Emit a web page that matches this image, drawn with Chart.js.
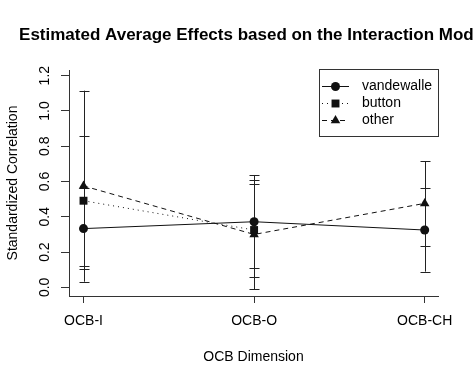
<!DOCTYPE html>
<html>
<head>
<meta charset="utf-8">
<script src="https://cdn.jsdelivr.net/npm/chart.js@4/dist/chart.umd.min.js"></script>
<style>
  html, body { margin: 0; padding: 0; background: #fff; }
  #wrap { width: 474px; height: 382px; position: relative; }
</style>
</head>
<body>
<div id="wrap"><canvas id="c" width="474" height="382"></canvas></div>
<script>
// ---- data ----
const categories = ['OCB-I', 'OCB-O', 'OCB-CH'];
const seriesNames = ['vandewalle', 'button', 'other'];
const vandewalle      = [0.333, 0.372, 0.325];
const vandewalleLower = [0.102, 0.110, 0.089];
const vandewalleUpper = [0.565, 0.637, 0.563];
const button      = [0.491, 0.325, null];
const buttonLower = [0.123, 0.059, null];
const buttonUpper = [0.860, 0.608, null];
const other      = [0.575, 0.300, 0.476];
const otherLower = [0.032, -0.011, 0.234];
const otherUpper = [1.115, 0.586, 0.716];
const yTicks = [0.0, 0.2, 0.4, 0.6, 0.8, 1.0, 1.2];
const titleText = 'Estimated Average Effects based on the Interaction Model';
const xTitle = 'OCB Dimension';
const yTitle = 'Standardized Correlation';

const FONT = '"Liberation Sans", Arial, Helvetica, sans-serif';
const INK = '#111';

function pts(arr) {
  const out = [];
  arr.forEach((v, i) => { if (v !== null) out.push({ x: i + 1, y: v }); });
  return out;
}

const styles = [
  { pointStyle: 'circle', radius: 4.5, dash: [] },
  { pointStyle: 'rect', radius: 5.6, dash: [1, 4] },
  { pointStyle: 'triangle', radius: 5.5, dash: [5, 4] }
];
const values = [vandewalle, button, other];
const lowers = [vandewalleLower, buttonLower, otherLower];
const uppers = [vandewalleUpper, buttonUpper, otherUpper];

const datasets = values.map((vals, k) => ({
  label: seriesNames[k],
  data: pts(vals),
  showLine: true,
  borderColor: INK,
  backgroundColor: INK,
  borderWidth: 1,
  borderDash: styles[k].dash,
  pointStyle: styles[k].pointStyle,
  pointRadius: styles[k].radius,
  pointBackgroundColor: INK,
  pointBorderColor: INK,
  pointBorderWidth: 0,
  tension: 0
}));

// error bars via the chart's scales
const errorBars = {
  id: 'errorBars',
  beforeDatasetsDraw(chart) {
    const { ctx, scales: { x, y } } = chart;
    ctx.save();
    ctx.strokeStyle = '#222';
    ctx.lineWidth = 1;
    ctx.setLineDash([]);
    const cap = 5;
    lowers.forEach((lo, k) => {
      lo.forEach((l, i) => {
        const u = uppers[k][i];
        if (l === null || u === null) return;
        const px = Math.round(x.getPixelForValue(i + 1)) + 0.5;
        const pl = y.getPixelForValue(l);
        const pu = y.getPixelForValue(u);
        ctx.beginPath();
        ctx.moveTo(px, pl); ctx.lineTo(px, pu);
        ctx.moveTo(px - cap, Math.round(pl) + 0.5); ctx.lineTo(px + cap, Math.round(pl) + 0.5);
        ctx.moveTo(px - cap, Math.round(pu) + 0.5); ctx.lineTo(px + cap, Math.round(pu) + 0.5);
        ctx.stroke();
      });
    });
    ctx.restore();
  }
};

function drawMarker(ctx, style, x, y, r) {
  ctx.beginPath();
  if (style === 'circle') {
    ctx.arc(x, y, r, 0, Math.PI * 2);
  } else if (style === 'rect') {
    const s = r * Math.SQRT1_2;
    ctx.rect(x - s, y - s, 2 * s, 2 * s);
  } else {
    for (let j = 0; j < 3; j++) {
      const a = j * 2 * Math.PI / 3;
      const xx = x + Math.sin(a) * r, yy = y - Math.cos(a) * r;
      if (j === 0) ctx.moveTo(xx, yy); else ctx.lineTo(xx, yy);
    }
    ctx.closePath();
  }
  ctx.fill();
}

const decorations = {
  id: 'decorations',
  afterDraw(chart) {
    const { ctx, chartArea, scales: { y } } = chart;
    ctx.save();
    ctx.fillStyle = '#000';
    // main title centred over plot region
    ctx.font = 'bold 17px ' + FONT;
    ctx.textAlign = 'center';
    ctx.textBaseline = 'alphabetic';
    ctx.fillText(titleText, (chartArea.left + chartArea.right) / 2, 40);
    // x title
    ctx.font = '14px ' + FONT;
    ctx.fillText(xTitle, (chartArea.left + chartArea.right) / 2, 361);
    // y tick labels (rotated like R)
    yTicks.forEach(v => {
      ctx.save();
      ctx.translate(49, y.getPixelForValue(v));
      ctx.rotate(-Math.PI / 2);
      ctx.textAlign = 'center';
      ctx.fillText(v.toFixed(1), 0, 0);
      ctx.restore();
    });
    // y title
    ctx.save();
    ctx.translate(17, (chartArea.top + chartArea.bottom) / 2);
    ctx.rotate(-Math.PI / 2);
    ctx.textAlign = 'center';
    ctx.fillText(yTitle, 0, 0);
    ctx.restore();
    // legend
    const lx = 319.5, ly = 69.5, lw = 119, lh = 67;
    ctx.strokeStyle = '#333';
    ctx.lineWidth = 1;
    ctx.strokeRect(lx, ly, lw, lh);
    const rows = [86.5, 103.5, 120.5];
    seriesNames.forEach((name, k) => {
      const ry = rows[k];
      ctx.strokeStyle = INK;
      ctx.setLineDash(styles[k].dash);
      ctx.beginPath();
      ctx.moveTo(322, ry); ctx.lineTo(349, ry);
      ctx.stroke();
      ctx.setLineDash([]);
      ctx.fillStyle = INK;
      drawMarker(ctx, styles[k].pointStyle, 335.5, ry, styles[k].radius);
      ctx.fillStyle = '#000';
      ctx.textAlign = 'left';
      ctx.textBaseline = 'middle';
      ctx.font = '14px ' + FONT;
      ctx.fillText(name, 362, ry);
    });
    ctx.restore();
  }
};

new Chart(document.getElementById('c'), {
  type: 'scatter',
  data: { datasets },
  options: {
    responsive: false,
    animation: false,
    devicePixelRatio: 1,
    layout: { padding: { top: 70, right: 36, left: 0, bottom: 0 } },
    plugins: { legend: { display: false }, title: { display: false }, tooltip: { enabled: false } },
    scales: {
      x: {
        type: 'linear',
        min: 0.915,
        max: 3.078,
        afterBuildTicks(s) { s.ticks = categories.map((c, i) => ({ value: i + 1 })); },
        afterFit(s) { s.height = 86; },
        ticks: {
          callback: (v) => categories[v - 1],
          font: { family: FONT, size: 14 },
          color: '#000',
          padding: 10,
          maxRotation: 0,
          autoSkip: false
        },
        grid: { display: true, drawOnChartArea: false, drawTicks: true, tickLength: 7, color: '#333', lineWidth: 1 },
        border: { display: true, color: '#333', width: 1 }
      },
      y: {
        type: 'linear',
        min: -0.049,
        max: 1.232,
        afterBuildTicks(s) { s.ticks = yTicks.map(v => ({ value: v })); },
        afterFit(s) { s.width = 69; },
        ticks: { display: false },
        grid: { display: true, drawOnChartArea: false, drawTicks: true, tickLength: 8, color: '#333', lineWidth: 1 },
        border: { display: true, color: '#333', width: 1 }
      }
    }
  },
  plugins: [errorBars, decorations]
});
</script>
</body>
</html>
